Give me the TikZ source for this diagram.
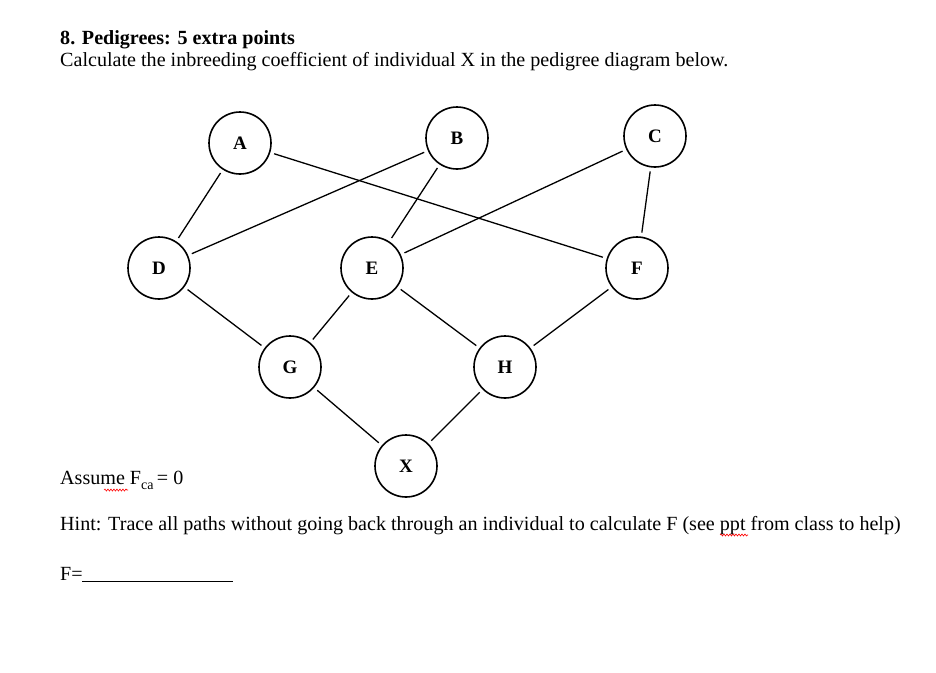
\documentclass[tikz,border=0pt]{standalone}
\usepackage{fontspec}
\setmainfont{Liberation Serif}
\usetikzlibrary{decorations.pathmorphing}
\begin{document}
\begin{tikzpicture}[x=1pt,y=-1pt,
  ind/.style={circle,draw,line width=1.6pt,minimum size=62pt,inner sep=0pt,font=\fontsize{19}{22}\selectfont\bfseries},
  link/.style={line width=1.3pt,shorten <=4pt,shorten >=4pt},
  txt/.style={anchor=base west,inner sep=0pt,font=\fontsize{20.1}{24}\selectfont},
  squig/.style={red,line width=0.6pt,decorate,decoration={snake,amplitude=1pt,segment length=3pt}}]
\useasboundingbox (0,0) rectangle (936,672);
\node[txt,font=\fontsize{20.1}{24}\selectfont\bfseries] (t1) at (60,44) {8. Pedigrees: 5 extra points};
\node[txt] (t2) at (60,66) {Calculate the inbreeding coefficient of individual X in the pedigree diagram below.};
\node[ind] (A) at (240,143) {A};
\node[ind] (B) at (457,138) {B};
\node[ind] (C) at (655,136) {C};
\node[ind] (D) at (159,268) {D};
\node[ind] (E) at (372,268) {E};
\node[ind] (F) at (637,268) {F};
\node[ind] (G) at (290,367) {G};
\node[ind] (H) at (505,367) {H};
\node[ind] (X) at (406,466) {X};
\draw[link] (A) -- (D);
\draw[link] (A) -- (F);
\draw[link] (B) -- (D);
\draw[link] (B) -- (E);
\draw[link] (C) -- (E);
\draw[link] (C) -- (F);
\draw[link] (D) -- (G);
\draw[link] (E) -- (G);
\draw[link] (E) -- (H);
\draw[link] (F) -- (H);
\draw[link] (G) -- (X);
\draw[link] (H) -- (X);
\node[txt] (as) at (60,484) {Assume F\raisebox{-0.25em}{\fontsize{14}{16}\selectfont ca}\,= 0};
\coordinate (s1) at (104,490); \coordinate (s2) at (128,490);
\draw[squig] (s1) -- (s2);
\node[txt] (hint) at (60,530) {Hint: Trace all paths without going back through an individual to calculate F (see ppt from class to help)};
\coordinate (s3) at (720,535); \coordinate (s4) at (748,535);
\draw[squig] (s3) -- (s4);
\node[txt] (fe) at (60,580) {F=};
\coordinate (u1) at (82,581); \coordinate (u2) at (233,581);
\draw[line width=0.8pt] (u1) -- (u2);
\end{tikzpicture}
\end{document}
